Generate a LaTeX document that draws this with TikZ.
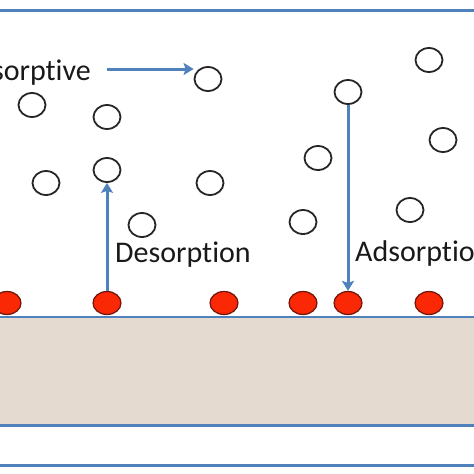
\documentclass[tikz,border=0pt]{standalone}
\usepackage{fontspec}
\setmainfont{Carlito}[Ligatures=NoCommon]
\usetikzlibrary{arrows.meta,shapes.geometric}
\definecolor{lineblue}{RGB}{79,129,189}
\definecolor{surftan}{RGB}{229,218,207}
\definecolor{sitered}{RGB}{250,40,5}
\definecolor{sitedark}{RGB}{110,20,10}
\tikzset{
  gas/.style={ellipse, draw=black!85, line width=1.8pt, fill=white,
    minimum width=27pt, minimum height=24pt, inner sep=0pt},
  site/.style={ellipse, draw=sitedark, line width=1.2pt, fill=sitered,
    minimum width=28pt, minimum height=23pt, inner sep=0pt},
  flow/.style={lineblue, line width=3pt,
    -{Stealth[inset=2pt,length=10pt,width=12pt]}},
  lbl/.style={inner sep=0pt, font=\fontsize{30}{36}\selectfont, text=black!90}
}
\begin{document}
\begin{tikzpicture}[x=1pt, y=-1pt]
        \useasboundingbox (0,0) rectangle (474,474);
        \clip (0,0) rectangle (474,474);
        % top edge and surface block
        \draw[lineblue, line width=3pt] (0,10) -- (474,10);
        \fill[surftan] (0,317) rectangle (474,424);
        \draw[lineblue, line width=1.2pt] (0,317) -- (474,317);
        \draw[lineblue, line width=3pt] (0,425) -- (474,425);
        \draw[lineblue, line width=3pt] (0,465) -- (474,465);
        % sorptive molecules in the gas
        \node[gas] (g1)  at (208,79)  {};
        \node[gas] (g2)  at (429,60)  {};
        \node[gas] (g3)  at (348,92)  {};
        \node[gas] (g4)  at (32,105)  {};
        \node[gas] (g5)  at (107,117) {};
        \node[gas] (g6)  at (443,140) {};
        \node[gas] (g7)  at (46,183)  {};
        \node[gas] (g8)  at (107,170) {};
        \node[gas] (g9)  at (142,225) {};
        \node[gas] (g10) at (210,183) {};
        \node[gas] (g11) at (318,158) {};
        \node[gas] (g12) at (303,222) {};
        \node[gas] (g13) at (410,210) {};
        % adsorbed molecules on the surface
        \node[site] (s1) at (7,303)   {};
        \node[site] (s2) at (107,303) {};
        \node[site] (s3) at (224,303) {};
        \node[site] (s4) at (303,303) {};
        \node[site] (s5) at (348,303) {};
        \node[site] (s6) at (429,303) {};
        % labels
        \node[lbl, anchor=base east] (sorptive) at (91,80)  {Adsorptive};
        \node[lbl, anchor=base west] (desorb)   at (115,262) {Desorption};
        \node[lbl, anchor=base west] (adsorb)   at (355,261) {Adsorption};
        % arrows
        \coordinate (sorptstart) at (107,69);
        \draw[flow] (sorptstart) -- (sorptstart -| g1.west);
        \draw[flow] (s2.north) -- (g8.south);
        \draw[flow] (g3.south) -- (s5.north);
\end{tikzpicture}
\end{document}
